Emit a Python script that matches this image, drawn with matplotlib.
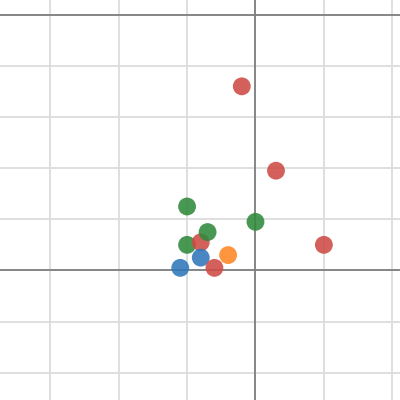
import numpy as np
import matplotlib.pyplot as plt

# points, in drawing order
xs = [-1.0, 0.0, -1.0, -0.8, -0.7, -1.1, -0.8, -0.6, -0.4, -0.2, 0.3, 1.0]
ys = [1.25, 0.95, 0.5, 0.55, 0.75, 0.05, 0.25, 0.05, 0.3, 3.6, 1.95, 0.5]
groups = ['green', 'green', 'green', 'red', 'green', 'blue', 'blue', 'red',
          'orange', 'red', 'red', 'red']
palette = {'blue': '#2f76b9', 'orange': '#ff8624', 'green': '#2f8a3c', 'red': '#cf4a45'}

fig = plt.figure(figsize=(4, 4), dpi=100)
ax = fig.add_axes([0, 0, 1, 1])

ax.set_xlim(-3.735, 2.113)
ax.set_ylim(-2.534, 5.288)
ax.set_xticks(np.arange(-3, 3, 1))
ax.set_yticks(np.arange(-2, 6, 1))
ax.grid(True, color='#dcdcdc', linewidth=1.3)
ax.set_axisbelow(True)
ax.tick_params(length=0, labelbottom=False, labelleft=False)
for s in ax.spines.values():
    s.set_visible(False)

ax.axhline(0, color='#7f7f7f', linewidth=1.3, zorder=1)
ax.axhline(5, color='#7f7f7f', linewidth=1.3, zorder=1)
ax.axvline(0, color='#7f7f7f', linewidth=1.3, zorder=1)

ax.scatter(xs, ys, s=165, c=[palette[g] for g in groups], alpha=0.88,
           linewidths=0, zorder=3)

fig.savefig('out.png', dpi=100)
